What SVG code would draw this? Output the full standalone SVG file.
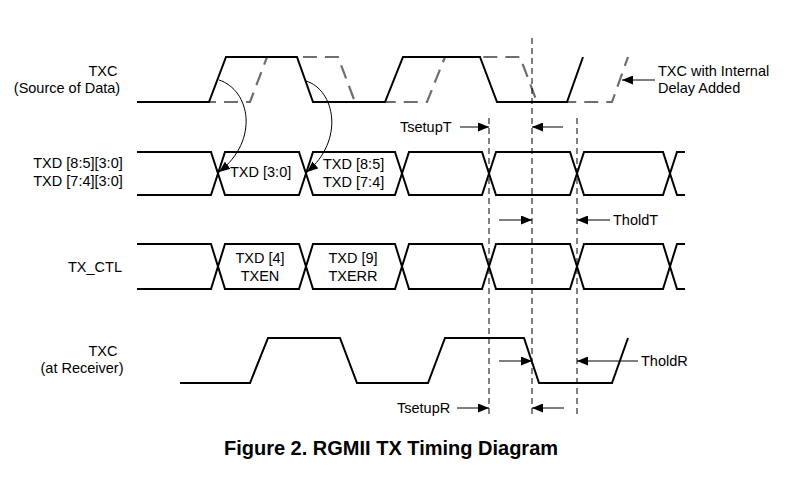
<svg xmlns="http://www.w3.org/2000/svg" width="790" height="481" viewBox="0 0 790 481">
<style>
.s{fill:none;stroke:#000;stroke-width:2}
.d{fill:none;stroke:#6e6e6e;stroke-width:2.2;stroke-dasharray:14,8}
.v{fill:none;stroke:#000;stroke-width:1}
.v{stroke-dasharray:6,4}
.a{fill:none;stroke:#000;stroke-width:1}
text{font-family:"Liberation Sans",Arial,sans-serif;font-size:14.5px;fill:#000}
.m{text-anchor:middle}
</style>
<defs>
<marker id="ah" markerWidth="11" markerHeight="9" refX="11" refY="4.5" orient="auto" markerUnits="userSpaceOnUse"><path d="M0,0 L11,4.5 L0,9 z"/></marker>
</defs>
<rect width="790" height="481" fill="#fff"/>
<g id="labels">
<text class="m" x="103" y="76">TXC</text>
<text class="m" x="67" y="93">(Source of Data)</text>
<text class="m" x="78" y="168">TXD [8:5][3:0]</text>
<text class="m" x="78" y="186">TXD [7:4][3:0]</text>
<text class="m" x="95" y="272">TX_CTL</text>
<text class="m" x="103" y="356">TXC</text>
<text class="m" x="82" y="373">(at Receiver)</text>
<text x="658" y="76">TXC with Internal</text>
<text x="658" y="93">Delay Added</text>
</g>
<g id="txc-dashed"><path class="d" d="M180,102 H250 L267,57 H338 L355,102 H427 L445,57 H520 L537,102 H612 L628,57"/></g>
<g id="txc"><path class="s" d="M137,102 H209 L226,57 H297 L313,102 H385 L403,57 H480 L497,102 H567 L583,57"/></g>
<g id="txd">
<path class="s" d="M137,152 H211 L225,195 H299 L313,152 H395 L409,195 H482 L496,152 H570 L584,195 H663 L677,152 H685"/>
<path class="s" d="M137,195 H211 L225,152 H299 L313,195 H395 L409,152 H482 L496,195 H570 L584,152 H663 L677,195 H685"/>
<text x="230" y="177">TXD [3:0]</text>
<text x="323" y="169">TXD [8:5]</text>
<text x="323" y="187">TXD [7:4]</text>
</g>
<g id="txctl">
<path class="s" d="M137,244 H211 L225,289 H299 L313,244 H395 L409,289 H482 L496,244 H570 L584,289 H663 L677,244 H685"/>
<path class="s" d="M137,289 H211 L225,244 H299 L313,289 H395 L409,244 H482 L496,289 H570 L584,244 H663 L677,289 H685"/>
<text class="m" x="260" y="263">TXD [4]</text>
<text class="m" x="260" y="281">TXEN</text>
<text class="m" x="353" y="263">TXD [9]</text>
<text class="m" x="353" y="281">TXERR</text>
</g>
<g id="txc-rx"><path class="s" d="M180,383 H250 L268,338 H340 L357,383 H428 L445,338 H524 L539,383 H612 L628,338"/></g>
<g id="connectors">
<line class="v" x1="489" y1="118" x2="489" y2="415"/>
<line class="v" x1="532" y1="38" x2="532" y2="415"/>
<line class="v" x1="577" y1="118" x2="577" y2="415"/>
<path class="a" d="M219,80 C250,90 260,140 219,172" marker-end="url(#ah)"/>
<path class="a" d="M306,81 C335,90 345,140 307,172" marker-end="url(#ah)"/>
<line class="a" x1="460" y1="127" x2="489" y2="127" marker-end="url(#ah)"/>
<line class="a" x1="563" y1="127" x2="532" y2="127" marker-end="url(#ah)"/>
<line class="a" x1="499" y1="220" x2="532" y2="220" marker-end="url(#ah)"/>
<line class="a" x1="610" y1="220" x2="577" y2="220" marker-end="url(#ah)"/>
<line class="a" x1="499" y1="361" x2="532" y2="361" marker-end="url(#ah)"/>
<line class="a" x1="638" y1="361" x2="577" y2="361" marker-end="url(#ah)"/>
<line class="a" x1="457" y1="408" x2="489" y2="408" marker-end="url(#ah)"/>
<line class="a" x1="564" y1="408" x2="532" y2="408" marker-end="url(#ah)"/>
<line class="a" x1="655" y1="80" x2="622" y2="80" marker-end="url(#ah)"/>
</g>
<g id="timing-labels">
<text x="400" y="132">TsetupT</text>
<text x="613" y="225">TholdT</text>
<text x="641" y="366">TholdR</text>
<text x="397" y="413">TsetupR</text>
</g>
<text x="391" y="455" text-anchor="middle" style="font-size:20px;font-weight:bold">Figure 2. RGMII TX Timing Diagram</text>
</svg>
